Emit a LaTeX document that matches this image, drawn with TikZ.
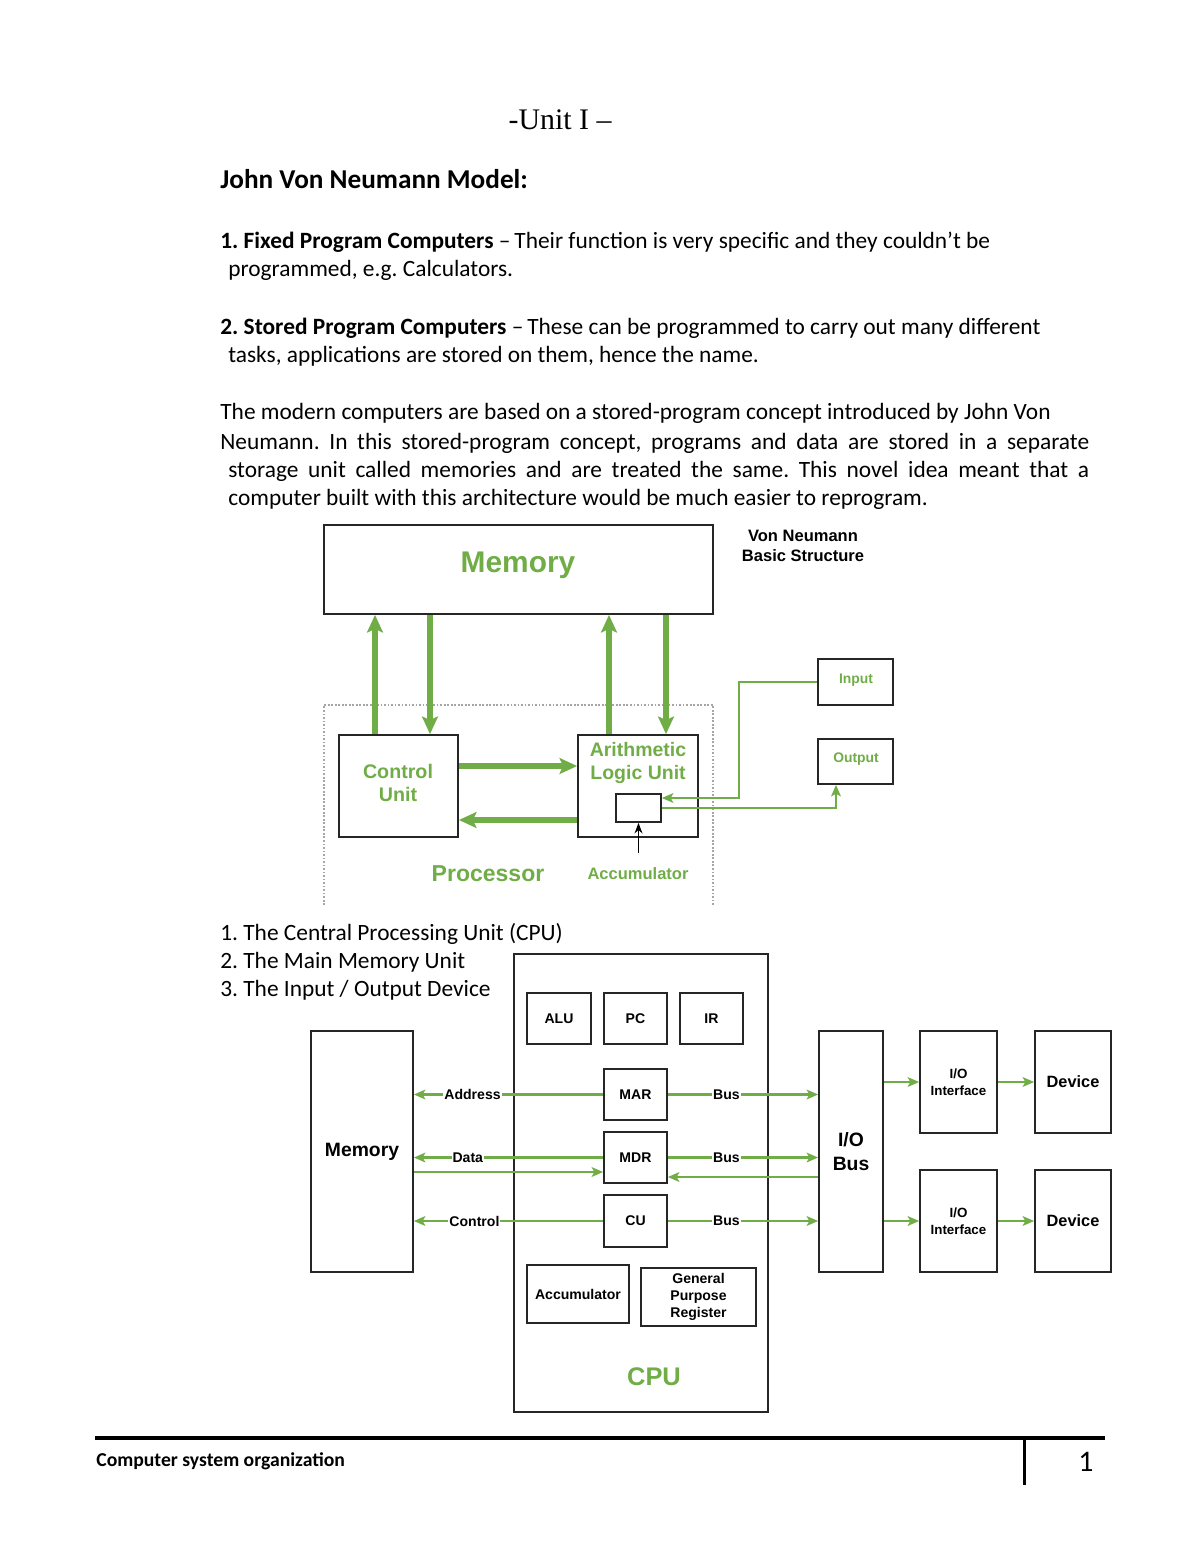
\documentclass[tikz,border=0pt]{standalone}
\usepackage{fontspec}
\setmainfont{Carlito}
\newfontfamily\arialfont{Liberation Sans}
\newfontfamily\cambriafont{Liberation Serif}
\usetikzlibrary{arrows.meta,positioning}
\definecolor{vngreen}{HTML}{70AD47}
\definecolor{boxgray}{HTML}{262626}
\newcommand\fsz[2]{\fontsize{#1}{#2}\selectfont}
\frenchspacing

\begin{document}
\begin{tikzpicture}[x=0.02cm,y=-0.02cm,
    box/.style={draw=boxgray,line width=1pt,inner sep=0pt},
    gtext/.style={text=vngreen,align=center,inner sep=0pt},
    btext/.style={text=black,align=center,inner sep=0pt},
    lbl/.style={fill=white,text=black,inner sep=0.6pt,font=\arialfont\bfseries\fsz{8}{9.6}},
    fatarrow/.style={vngreen,line width=3pt,-{Stealth[length=10pt,width=9pt,inset=2pt]}},
    thinarrow/.style={vngreen,line width=1.2pt,-{Stealth[length=6.5pt,width=5.5pt,inset=1.5pt]}},
    body/.style={anchor=base west,inner sep=0pt,font=\fsz{13.3}{16}}]
    \useasboundingbox (0,0) rectangle (1200,1553);

    % page text
    \node[font=\cambriafont\fsz{17}{20}] (unit) at (560,120) {-Unit I –};
    \node[body,font=\bfseries\fsz{15.5}{18}] (model) at (220,188) {John Von Neumann Model:};
    \node[body] (fixed1) at (220,248) {\textbf{1. Fixed Program Computers} –\,Their function is very specific and they couldn’t be};
    \node[body] (fixed2) at (228,276) {programmed, e.g. Calculators.};
    \node[body] (stored1) at (220,334) {\textbf{2. Stored Program Computers} –\,These can be programmed to carry out many different};
    \node[body] (stored2) at (228,362) {tasks, applications are stored on them, hence the name.};
    \node[body] (para1) at (220,419) {The modern computers are based on a stored-program concept introduced by John Von};
    \node[body] (para2) at (220,449) {\makebox[17.38cm][s]{Neumann. In this stored-program concept, programs and data are stored in a separate}};
    \node[body] (para3) at (228,477) {\makebox[17.22cm][s]{storage unit called memories and are treated the same. This novel idea meant that a}};
    \node[body] (para4) at (228,505) {computer built with this architecture would be much easier to reprogram.};

    % basic structure
    \draw[gray!70,line width=0.6pt,dash pattern=on 1pt off 1pt] (324,905) -- (324,705) -- (713,705) -- (713,905);
    \node[box,minimum width=7.78cm,minimum height=1.78cm] (mem) at (518.5,569.5) {};
    \node[gtext,font=\arialfont\bfseries\fsz{17}{20}] (memtxt) at (518,565) {Memory};
    \node[btext,font=\arialfont\bfseries\fsz{9.4}{11.3}] (vnlbl) at (803,546) {Von Neumann\\Basic Structure};
    \node[box,minimum width=2.38cm,minimum height=2.04cm] (cu) at (398.5,786) {};
    \node[gtext,font=\arialfont\bfseries\fsz{11.2}{13.6}] (cutxt) at (398,783) {Control\\Unit};
    \node[box,minimum width=2.40cm,minimum height=2.04cm] (alu) at (638,786) {};
    \node[gtext,font=\arialfont\bfseries\fsz{11.1}{13.6}] (alutxt) at (638,763) {Arithmetic\\Logic Unit};
    \node[box,minimum width=0.90cm,minimum height=0.56cm] (acc) at (638.5,808) {};
    \node[box,minimum width=1.50cm,minimum height=0.92cm] (in) at (855.5,682) {};
    \node[gtext,font=\arialfont\bfseries\fsz{7.9}{9}] (intxt) at (856,680) {Input};
    \node[box,minimum width=1.50cm,minimum height=0.90cm] (out) at (855.5,761.5) {};
    \node[gtext,font=\arialfont\bfseries\fsz{7.9}{9}] (outtxt) at (856,759) {Output};
    \node[gtext,font=\arialfont\bfseries\fsz{13.1}{15}] (proc) at (488,874) {Processor};
    \node[gtext,font=\arialfont\bfseries\fsz{9.4}{11}] (acclbl) at (638,874) {Accumulator};

    \draw[fatarrow] (cu.north -| 375,0) -- (mem.south -| 375,0);
    \draw[fatarrow] (mem.south -| 430,0) -- (cu.north -| 430,0);
    \draw[fatarrow] (alu.north -| 609,0) -- (mem.south -| 609,0);
    \draw[fatarrow] (mem.south -| 666,0) -- (alu.north -| 666,0);
    \draw[fatarrow] (cu.east |- 0,766) -- (alu.west |- 0,766);
    \draw[fatarrow] (alu.west |- 0,820) -- (cu.east |- 0,820);
    \draw[thinarrow] (in.west) -- ++(-78,0) |- (acc.east |- 0,798);
    \draw[thinarrow] (acc.east |- 0,808) -| (out.south -| 836,0);
    \draw[line width=0.6pt,-{Stealth[length=6pt,width=4.5pt]}] (acc.south |- 0,853) -- (acc.south);

    % list
    \node[body] (item1) at (220,940) {1. The Central Processing Unit (CPU)};
    \node[body] (item2) at (220,968) {2. The Main Memory Unit};
    \node[body] (item3) at (220,996) {3. The Input / Output Device};

    % cpu diagram
    \node[box,minimum width=5.08cm,minimum height=9.16cm] (cpu) at (641,1183) {};
    \node[gtext,font=\arialfont\bfseries\fsz{14.5}{17}] (cputxt) at (654,1377) {CPU};
    \begin{scope}[every node/.append style={box,font=\arialfont\bfseries\fsz{8}{9.6},align=center,minimum width=1.26cm,minimum height=1.02cm}]
        \node[minimum width=1.28cm] (alu2) at (559,1018.5) {ALU};
        \node (pc) at (635.5,1018.5) {PC};
        \node (ir) at (711.5,1018.5) {IR};
        \node (mar) at (635.5,1094.5) {MAR};
        \node (mdr) at (635.5,1157.5) {MDR};
        \node[minimum height=1.04cm] (cu2) at (635.5,1221) {CU};
        \node[minimum width=2.04cm,minimum height=1.16cm] (accu) at (578,1294) {Accumulator};
        \node[minimum width=2.30cm,minimum height=1.16cm] (gpr) at (698.5,1297) {General\\Purpose\\Register};
        \node[minimum width=1.54cm,minimum height=2.04cm,font=\arialfont\bfseries\fsz{7.6}{9.6}] (if1) at (958.5,1082) {I/O\\Interface};
        \node[minimum width=1.54cm,minimum height=2.04cm,font=\arialfont\bfseries\fsz{7.6}{9.6}] (if2) at (958.5,1221) {I/O\\Interface};
        \node[minimum width=1.52cm,minimum height=2.04cm,font=\arialfont\bfseries\fsz{9.3}{11}] (dev1) at (1073,1082) {Device};
        \node[minimum width=1.52cm,minimum height=2.04cm,font=\arialfont\bfseries\fsz{9.3}{11}] (dev2) at (1073,1221) {Device};
        \node[minimum width=2.04cm,minimum height=4.82cm,font=\arialfont\bfseries\fsz{11}{13}] (mem2) at (362,1151.5) {Memory};
        \node[minimum width=1.28cm,minimum height=4.82cm,font=\arialfont\bfseries\fsz{11}{13.6}] (iobus) at (851,1151.5) {I/O\\Bus};
    \end{scope}

    \draw[thinarrow] (mar.west) -- (mem2.east |- mar.west) node[lbl,pos=0.69] {Address};
    \draw[thinarrow] (mdr.west) -- (mem2.east |- mdr.west) node[lbl,pos=0.715] {Data};
    \draw[thinarrow] (mem2.east |- 0,1172) -- (mdr.west |- 0,1172);
    \draw[thinarrow] (cu2.west) -- (mem2.east |- cu2.west) node[lbl,pos=0.68] {Control};
    \draw[thinarrow] (mar.east) -- (iobus.west |- mar.east) node[lbl,pos=0.39] {Bus};
    \draw[thinarrow] (mdr.east) -- (iobus.west |- mdr.east) node[lbl,pos=0.39] {Bus};
    \draw[thinarrow] (iobus.west |- 0,1177) -- (mdr.east |- 0,1177);
    \draw[thinarrow] (cu2.east) -- (iobus.west |- cu2.east) node[lbl,pos=0.39] {Bus};
    \draw[thinarrow] (iobus.east |- if1.west) -- (if1.west);
    \draw[thinarrow] (if1.east) -- (dev1.west);
    \draw[thinarrow] (iobus.east |- if2.west) -- (if2.west);
    \draw[thinarrow] (if2.east) -- (dev2.west);

    % footer
    \draw[line width=2.2pt] (95,1438) -- (1105,1438);
    \draw[line width=1.7pt] (1024,1438) -- (1024,1485);
    \node[body,font=\bfseries\fsz{11.2}{13}] (foot) at (96,1466) {Computer system organization};
    \node[font=\fsz{17}{20}] (page) at (1086,1462) {1};
\end{tikzpicture}
\end{document}
